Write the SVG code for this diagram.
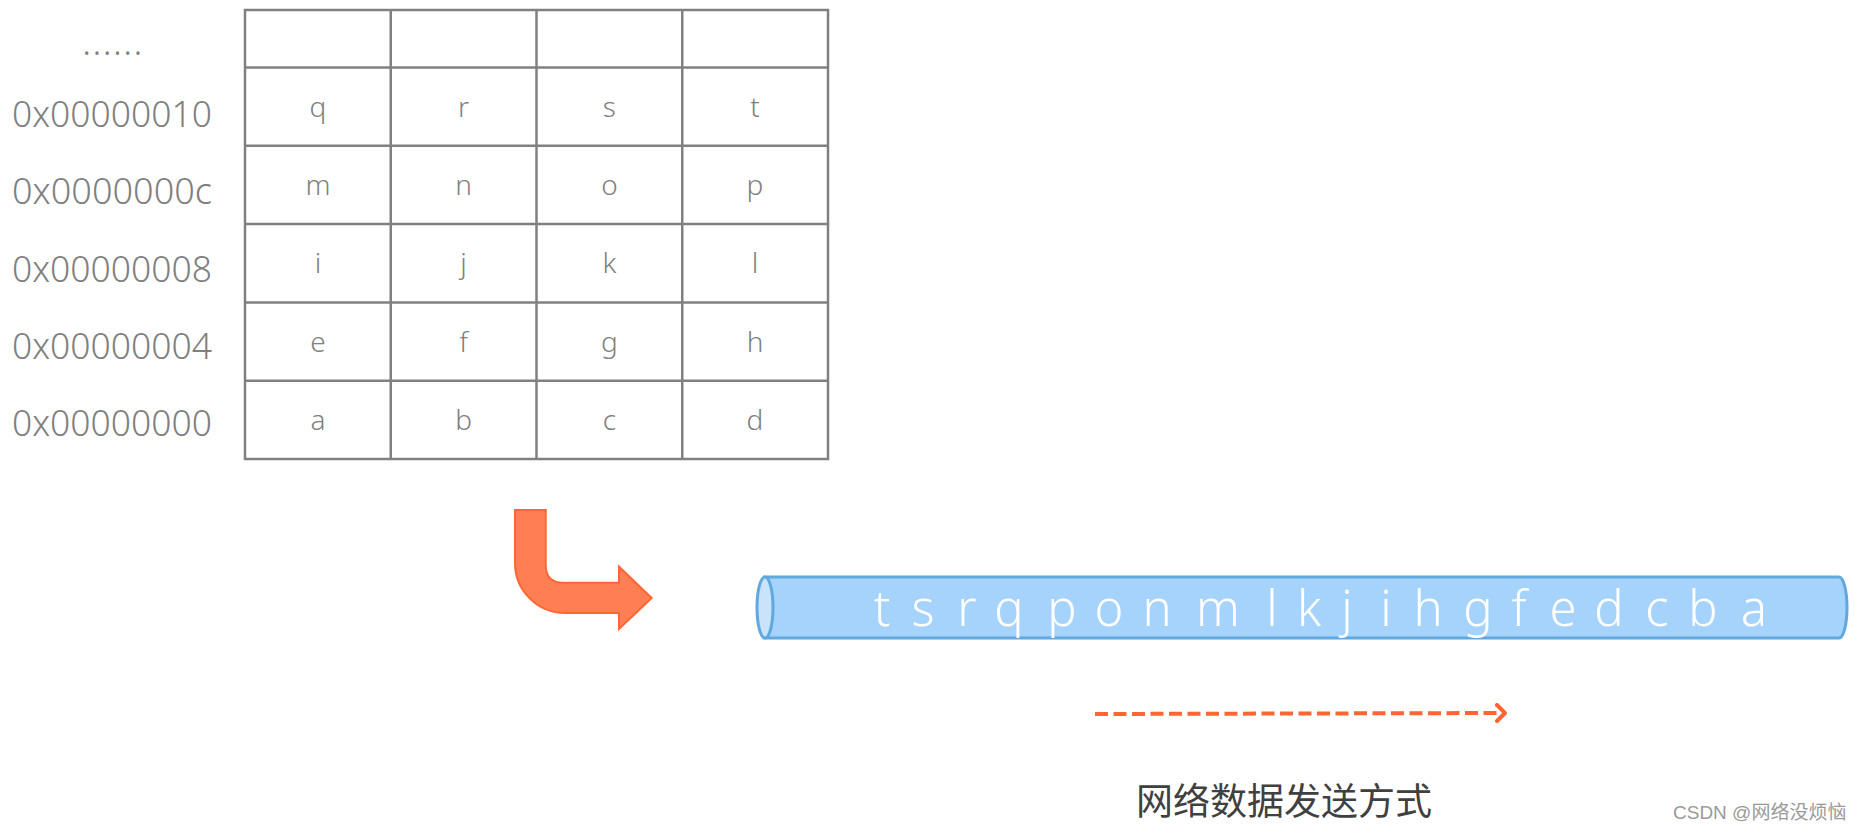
<svg xmlns="http://www.w3.org/2000/svg" width="1861" height="832" viewBox="0 0 1861 832">
<style>
.grid{stroke:#808080;stroke-width:2.5;fill:none}
.cell{font-family:"Noto Sans","Liberation Sans",sans-serif;font-weight:300;font-size:28px;fill:#7f7f7f;text-anchor:middle}
.addr{font-family:"Noto Sans","Liberation Sans",sans-serif;font-weight:300;font-size:36px;fill:#808080}
.pipe-text{font-family:"Noto Sans","Liberation Sans",sans-serif;font-weight:300;font-size:49px;fill:#ffffff;text-anchor:middle}
</style>
<defs>
<marker id="arr" viewBox="0 0 12 20" refX="10" refY="10" markerWidth="12" markerHeight="20" markerUnits="userSpaceOnUse" orient="auto">
<path d="M2,2 L10,10 L2,18" fill="none" stroke="#ff6633" stroke-width="4" stroke-linecap="round" stroke-linejoin="round"/>
</marker>
</defs>
<rect width="1861" height="832" fill="#ffffff"/>
<g id="memory-table">
<rect class="grid" x="245" y="10" width="583" height="449"/>
<line class="grid" x1="390.75" y1="10" x2="390.75" y2="459"/>
<line class="grid" x1="536.5" y1="10" x2="536.5" y2="459"/>
<line class="grid" x1="682.25" y1="10" x2="682.25" y2="459"/>
<line class="grid" x1="245" y1="67.5" x2="828" y2="67.5"/>
<line class="grid" x1="245" y1="145.8" x2="828" y2="145.8"/>
<line class="grid" x1="245" y1="224.1" x2="828" y2="224.1"/>
<line class="grid" x1="245" y1="302.4" x2="828" y2="302.4"/>
<line class="grid" x1="245" y1="380.7" x2="828" y2="380.7"/>
<text class="cell" x="318" y="116.5">q</text><text class="cell" x="463.6" y="116.5">r</text><text class="cell" x="609.4" y="116.5">s</text><text class="cell" x="755" y="116.5">t</text>
<text class="cell" x="318" y="194.5">m</text><text class="cell" x="463.6" y="194.5">n</text><text class="cell" x="609.4" y="194.5">o</text><text class="cell" x="755" y="194.5">p</text>
<text class="cell" x="318" y="273">i</text><text class="cell" x="463.6" y="273">j</text><text class="cell" x="609.4" y="273">k</text><text class="cell" x="755" y="273">l</text>
<text class="cell" x="318" y="351.5">e</text><text class="cell" x="463.6" y="351.5">f</text><text class="cell" x="609.4" y="351.5">g</text><text class="cell" x="755" y="351.5">h</text>
<text class="cell" x="318" y="430">a</text><text class="cell" x="463.6" y="430">b</text><text class="cell" x="609.4" y="430">c</text><text class="cell" x="755" y="430">d</text>
</g>
<g id="address-labels">
<text class="addr" x="113" y="55" text-anchor="middle" letter-spacing="1.5">......</text>
<text class="addr" x="12" y="127" textLength="200" lengthAdjust="spacingAndGlyphs">0x00000010</text>
<text class="addr" x="12" y="204" textLength="200" lengthAdjust="spacingAndGlyphs">0x0000000c</text>
<text class="addr" x="12" y="282" textLength="200" lengthAdjust="spacingAndGlyphs">0x00000008</text>
<text class="addr" x="12" y="359" textLength="200" lengthAdjust="spacingAndGlyphs">0x00000004</text>
<text class="addr" x="12" y="436" textLength="200" lengthAdjust="spacingAndGlyphs">0x00000000</text>
</g>
<g id="bent-arrow">
<path d="M515,510 H545.7 V565 Q545.7,582.7 563,582.7 H619 V566.7 L651.7,598 L619,629 V613 H565 A50,50 0 0 1 515,563 Z" fill="#ff7f55" stroke="#ff6633" stroke-width="2"/>
</g>
<g id="pipe">
<path d="M765,577 H1839 A8,30.5 0 0 1 1839,638 H765 Z" fill="#a6d3fc" stroke="#5fa8e0" stroke-width="3"/>
<ellipse cx="765" cy="607.5" rx="8" ry="30.5" fill="#c9e3fb" stroke="#5fa8e0" stroke-width="3"/>
<text class="pipe-text" x="882 923 967 1009 1062 1109 1157 1218 1272 1309 1347 1386 1428 1478 1519 1563 1609 1657 1703 1754" y="626">tsrqponmlkjihgfedcba</text>
</g>
<g id="connectors">
<line x1="1095" y1="714" x2="1505" y2="713" stroke="#ff6633" stroke-width="4" stroke-dasharray="13,5.5" marker-end="url(#arr)"/>
</g>
<g id="caption">
<text x="1136" y="815" font-family="'Noto Sans CJK SC',sans-serif" font-size="37" fill="#404040">网络数据发送方式</text>
</g>
<g id="watermark">
<text x="1673" y="819" font-family="'Liberation Sans','Noto Sans CJK SC',sans-serif" font-size="19" fill="#9a9a9a">CSDN @网络没烦恼</text>
</g>
</svg>
